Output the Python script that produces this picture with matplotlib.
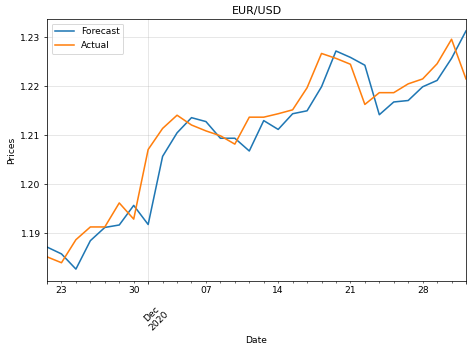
import matplotlib
matplotlib.use("Agg")
import matplotlib.pyplot as plt
import pandas as pd

# business days, 20 Nov - 31 Dec 2020
dates = pd.bdate_range("2020-11-20", "2020-12-31", name="Date")

forecast = [1.1872, 1.1858, 1.1827, 1.1885, 1.1912, 1.1917, 1.1957, 1.1918,
            1.2057, 1.2105, 1.2136, 1.2128, 1.2094, 1.2094, 1.2068, 1.2130,
            1.2112, 1.2144, 1.2150, 1.2199, 1.2272, 1.2259, 1.2243, 1.2142,
            1.2168, 1.2171, 1.2199, 1.2212, 1.2257, 1.2313]
actual = [1.1852, 1.1840, 1.1887, 1.1913, 1.1913, 1.1962, 1.1929, 1.2071,
          1.2114, 1.2141, 1.2121, 1.2109, 1.2099, 1.2082, 1.2137, 1.2137,
          1.2144, 1.2152, 1.2197, 1.2267, 1.2257, 1.2245, 1.2163, 1.2187,
          1.2187, 1.2205, 1.2215, 1.2246, 1.2296, 1.2215]

df = pd.DataFrame({"Forecast": forecast, "Actual": actual}, index=dates)

dpi = 66
fig = plt.figure(figsize=(474 / dpi, 354 / dpi), dpi=dpi)
ax = fig.add_axes([0.0992, 0.2062, 0.8839, 0.7401])
df.plot(ax=ax, lw=1.7)
plt.title("EUR/USD")
plt.ylabel("Prices")
plt.xlabel("Date")
plt.grid(alpha=0.4)
plt.xticks(rotation=45)
plt.legend(loc="upper left")

fig.savefig("out.png", dpi=dpi)
